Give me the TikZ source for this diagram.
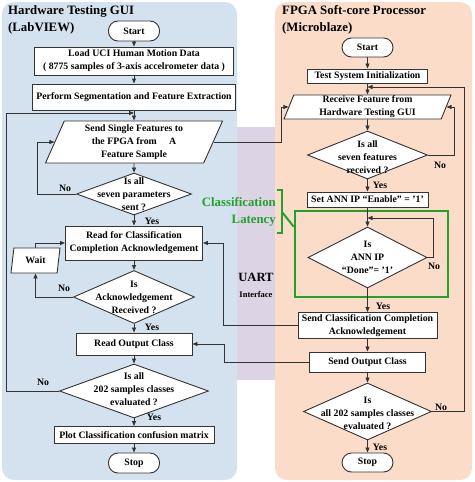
\documentclass[tikz,border=0pt]{standalone}
\usepackage{fontspec}
\setmainfont{Liberation Serif}
\usepackage{tikz}
\usetikzlibrary{arrows.meta, positioning, shapes.geometric}
\definecolor{guiblue}{HTML}{D4E2EF}
\definecolor{fpgapeach}{HTML}{FADCC9}
\definecolor{uartlilac}{HTML}{DCD3E4}
\definecolor{latgreen}{HTML}{23A02B}
\definecolor{flowgray}{HTML}{333333}
\newcommand{\flowfont}{\fontsize{9.8}{13}\selectfont\bfseries}
\newcommand{\headfont}{\fontsize{12.8}{17}\selectfont\bfseries}

\begin{document}
\begin{tikzpicture}[x=1pt, y=-1pt,
    proc/.style={draw=flowgray, line width=0.9pt, fill=white, font=\flowfont, align=center, inner sep=1pt},
    term/.style={proc, rounded corners=9.5pt, minimum width=51, minimum height=20},
    io/.style={proc, trapezium, trapezium stretches body},
    dec/.style={draw=flowgray, line width=0.9pt, fill=white, diamond, inner sep=0pt},
    dtxt/.style={font=\flowfont, align=center, inner sep=0pt},
    ans/.style={font=\flowfont, inner sep=0pt},
    flow/.style={draw=flowgray, line width=0.8pt, -{Triangle[length=5pt, width=4pt]}},
]
    \useasboundingbox (0,0) rectangle (474,482);
    \fill[uartlilac] (230,127) rectangle (280,380);
    \fill[guiblue, rounded corners=12pt] (2,2) rectangle (237,480);
    \fill[fpgapeach, rounded corners=12pt] (275,2) rectangle (472,480);

    \node[font=\headfont, align=left, anchor=north west, inner sep=0pt] (guititle) at (8,5) {Hardware Testing GUI\\(LabVIEW)};
    \node[font=\headfont, align=left, anchor=north west, inner sep=0pt] (fpgatitle) at (282,5) {FPGA Soft-core Processor\\(Microblaze)};

    \node[term] (st1) at (134,31) {Start};
    \node[proc, minimum width=199, minimum height=28] (ld) at (134,61) {Load UCI Human Motion Data\\( 8775 samples of 3-axis accelrometer data )};
    \node[proc, minimum width=203, minimum height=26] (seg) at (134,97) {Perform Segmentation and Feature Extraction};
    \coordinate (mrg1) at (134,113);
    \node[io, trapezium left angle=63, trapezium right angle=117, minimum width=177, minimum height=42] (snd) at (134,142) {Send Single Features to\\the FPGA from \quad A\\Feature Sample};
    \node[dec, minimum width=115, minimum height=42] (d1) at (134,194) {};
    \node[dtxt] (d1t) at (d1) {Is all\\seven parameters\\sent ?};
    \node[proc, minimum width=137, minimum height=34] (rd) at (134,243) {Read for Classification\\Completion Acknowledgement};
    \node[io, trapezium left angle=72, trapezium right angle=108, minimum width=49, minimum height=25] (wt) at (35.5,260.5) {Wait};
    \node[dec, minimum width=121, minimum height=53] (d2) at (134,297) {};
    \node[dtxt] (d2t) at (d2) {Is\\Acknowledgement\\Received ?};
    \node[proc, minimum width=116, minimum height=22] (ro) at (134,344) {Read Output Class};
    \node[dec, minimum width=149, minimum height=54] (d3) at (134,391) {};
    \node[dtxt] (d3t) at ([yshift=2]d3) {Is all\\202 samples classes\\evaluated ?};
    \node[proc, minimum width=160, minimum height=17] (pl) at (134,435) {Plot Classification confusion matrix};
    \node[term] (sp1) at (134,463) {Stop};

    \node[term, minimum height=19] (st2) at (367.5,47.5) {Start};
    \node[proc, minimum width=120, minimum height=14] (ini) at (367.5,76) {Test System Initialization};
    \coordinate (mrg2) at (367.5,87);
    \node[io, trapezium left angle=67, trapezium right angle=113, minimum width=167, minimum height=24, inner sep=0.5pt] (rcv) at (367.5,107) {Receive Feature from\\Hardware Testing GUI};
    \node[dec, minimum width=120, minimum height=48] (d4) at (367.5,155) {};
    \node[dtxt] (d4t) at ([yshift=-2]d4) {Is all\\seven features\\received ?};
    \node[proc, minimum width=121, minimum height=15] (set) at (367.5,199.5) {Set ANN IP “Enable” = '1'};
    \node[draw=latgreen, line width=2.6pt, minimum width=153, minimum height=86, inner sep=0pt] (latbox) at (371.5,254) {};
    \coordinate (mrg3) at (367.5,218);
    \node[dec, minimum width=119, minimum height=61] (d5) at (367.5,257.5) {};
    \node[dtxt] (d5t) at (d5) {Is\\ANN IP\\“Done”= '1'};
    \node[proc, minimum width=139, minimum height=26] (ack) at (367.5,325.5) {Send Classification Completion\\Acknowledgement};
    \node[proc, minimum width=116, minimum height=20] (so) at (367.5,362) {Send Output Class};
    \node[dec, minimum width=128, minimum height=57] (d6) at (367.5,411.5) {};
    \node[dtxt] (d6t) at ([yshift=-1.5]d6) {Is\\all 202 samples classes\\evaluated ?};
    \node[term, minimum height=19] (sp2) at (367.5,462.5) {Stop};

    \node[font=\headfont, text=latgreen, align=right, anchor=east, inner sep=0pt] (latlbl) at (276,212) {Classification\\Latency};
    \draw[latgreen, line width=2pt] (277,190) -- (282,190) -- (282,233) -- (277,233);
    \draw[latgreen, line width=2pt] (282,212) -- ([yshift=-17]latbox.north west);
    \node[font=\fontsize{12.6}{15}\selectfont\bfseries] (uart) at (256,277) {UART};
    \node[font=\fontsize{8.5}{10}\selectfont\bfseries] (uif) at (256,295) {Interface};

    \node[ans] (no1) at (65,188) {No};
    \node[ans] (yes1) at (152,221) {Yes};
    \node[ans] (no2) at (64,288) {No};
    \node[ans] (yes2) at (152,327) {Yes};
    \node[ans] (no3) at (43,382) {No};
    \node[ans] (yes3) at (154,417) {Yes};
    \node[ans] (no4) at (440,165) {No};
    \node[ans] (yes4) at (380,185) {Yes};
    \node[ans] (no5) at (434,266) {No};
    \node[ans] (yes5) at (383,306) {Yes};
    \node[ans] (no6) at (441,407) {No};
    \node[ans] (yes6) at (380,447) {Yes};

    \draw[flow] (st1) -- (ld);
    \draw[flow] (ld) -- (seg);
    \draw[flow] (seg) -- (snd);
    \draw[flow] (snd) -- (d1);
    \draw[flow] (d1) -- (rd);
    \draw[flow] (rd) -- (d2);
    \draw[flow] (d2) -- (ro);
    \draw[flow] (ro) -- (d3);
    \draw[flow] (d3) -- (pl);
    \draw[flow] (pl) -- (sp1);
    \draw[flow] (d1.west) -- ++(-39,0) |- (snd.left side);
    \draw[flow] (d2.west) -| (wt.south);
    \draw[flow] (wt.north) |- (rd.west);
    \draw[flow] (d3.west) -- ++(-52.5,0) |- (mrg1);
    \draw[flow] (snd.right side) -- ++(68,0) |- (rcv.left side);
    \draw[flow] (ack.west) -- ++(-74,0) |- (rd.east);
    \draw[flow] (so.west) -- ++(-85,0) |- (ro.east);

    \draw[flow] (st2) -- (ini);
    \draw[flow] (ini) -- (rcv);
    \draw[flow] (rcv) -- (d4);
    \draw[flow] (d4) -- (set);
    \draw[flow] (set) -- (d5);
    \draw[flow] (d5) -- (ack);
    \draw[flow] (ack) -- (so);
    \draw[flow] (so) -- (d6);
    \draw[flow] (d6) -- (sp2);
    \draw[flow] (d4.east) -- ++(26,0) |- (rcv.right side);
    \draw[flow] (d5.east) -- ++(6,0) |- (mrg3);
    \draw[flow] (d6.east) -- ++(32,0) |- (mrg2);
\end{tikzpicture}
\end{document}
